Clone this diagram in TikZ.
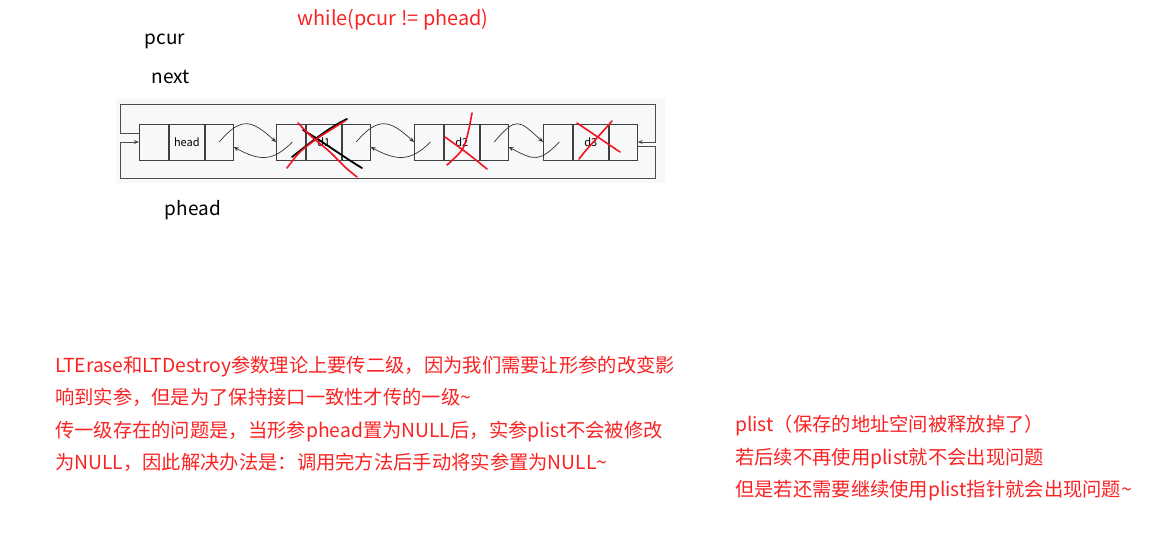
\documentclass[tikz,border=0pt]{standalone}
\usepackage{fontspec}
\setmainfont{Noto Sans CJK SC}
\usepackage{tikz}
\usetikzlibrary{arrows.meta, calc}
\definecolor{txtred}{RGB}{250,35,35}
\definecolor{inkred}{RGB}{240,20,30}
\definecolor{panel}{RGB}{247,248,250}
\tikzset{
  cell/.style  = {draw, rectangle, minimum height=36pt, inner sep=0pt,
                  line width=0.9pt, draw=black!75,
                  font=\fontsize{11}{13}\selectfont},
  lnk/.style   = {-{Stealth[length=5pt, width=4pt]}, line width=0.7pt, black!80},
  ring/.style  = {line width=0.9pt, black!70},
  redx/.style  = {inkred, line width=1.6pt, line cap=round, line join=round},
  blkx/.style  = {black, line width=1.8pt, line cap=round},
  lbl/.style   = {inner sep=0pt, font=\fontsize{19}{23}\selectfont},
  note/.style  = {inner sep=0pt, align=left, txtred,
                  font=\fontsize{19.3}{32.4}\selectfont},
}
\begin{document}
\begin{tikzpicture}[x=1pt, y=-1pt]
  \useasboundingbox[fill=white] (0,0) rectangle (1171,558);
  \fill[panel] (116,98) rectangle (665,183);
  % list nodes
  \foreach \n/\x/\t in {hd/139/head, d1/276/d1, d2/414/d2, d3/543/d3}{
    \node[cell, minimum width=29pt, anchor=west] (\n-l) at (\x,142) {};
    \node[cell, minimum width=35pt, anchor=west] (\n-m) at (\n-l.east) {\t};
    \node[cell, minimum width=28pt, anchor=west] (\n-r) at (\n-m.east) {};
  }
  \foreach \a/\b in {hd/d1, d1/d2, d2/d3}{
    \draw[lnk] (\a-r.center) .. controls +(22,-26) and +(-24,-22) .. (\b-l.west);
    \draw[lnk] ([xshift=1.5pt]\b-l.center) .. controls +(-20,20) and +(26,14)
      .. ([yshift=-5pt]\a-r.east);
  }
  % loop round the list
  \coordinate (tl) at (120,104);
  \coordinate (tr) at (655,104);
  \coordinate (bl) at (120,178);
  \coordinate (br) at (655,178);
  \draw[ring] ([yshift=9pt]hd-l.west) -| (tl) -- (tr);
  \draw[ring, -{Stealth[length=5pt, width=4pt]}] (tr) |- (d3-r.east);
  \draw[ring] ([yshift=-4pt]d3-r.east) -| (br) -- (bl);
  \draw[ring, -{Stealth[length=5pt, width=4pt]}] (bl) |- (hd-l.west);
  % crossed out nodes
  \draw[blkx] (303,130) .. controls (325,143) and (345,158) .. (362,168);
  \draw[blkx] (292,157) .. controls (310,143) and (328,128) .. (347,119);
  \draw[redx] plot[smooth] coordinates {(298,123) (312,137) (330,152) (345,167) (357,177)};
  \draw[redx] plot[smooth] coordinates {(287,168) (300,152) (318,138) (345,121)};
  \draw[redx] plot[smooth] coordinates {(472,113) (468,133) (462,150) (447,165)};
  \draw[redx] plot[smooth] coordinates {(445,137) (467,153) (487,169)};
  \draw[redx] (577,123) -- (620,152);
  \draw[redx] (612,121) .. controls (600,135) and (588,147) .. (579,159);
  % labels
  \node[lbl, txtred, font=\fontsize{19.9}{23}\selectfont] (cond) at (393,20) {while(pcur != phead)};
  \node[lbl] (pcur) at (165,41) {pcur};
  \node[lbl] (next) at (171,77) {next};
  \node[lbl] (phead) at (193,210) {phead};
  \node[note, anchor=north west] (why) at (55,356)
    {LTErase和LTDestroy参数理论上要传二级，因为我们需要让形参的改变影\\
     响到实参，但是为了保持接口一致性才传的一级\textasciitilde\\
     传一级存在的问题是，当形参phead置为NULL后，实参plist不会被修改\\
     为NULL，因此解决办法是：调用完方法后手动将实参置为NULL\textasciitilde};
  \node[note, anchor=north west] (plist) at (735,415)
    {plist（保存的地址空间被释放掉了）\\
     若后续不再使用plist就不会出现问题\\
     但是若还需要继续使用plist指针就会出现问题\textasciitilde};
\end{tikzpicture}
\end{document}
